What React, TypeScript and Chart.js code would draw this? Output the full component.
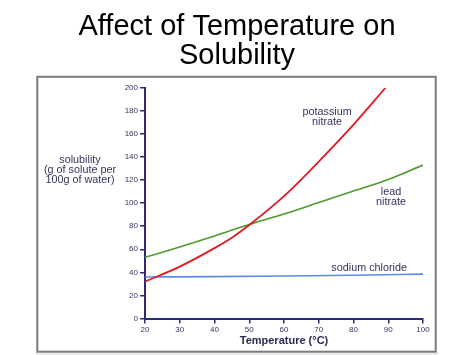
import { useEffect, useRef } from "react";
import { Chart, registerables } from "chart.js";

Chart.register(...registerables);

const titleLines = ["Affect of Temperature on", "Solubility"];
const xTitle = "Temperature (°C)";
const yTitleLines = ["solubility", "(g of solute per", "100g of water)"];

const xMin = 20;
const xMax = 100;
const xStep = 10;
const yMin = 0;
const yMax = 200;
const yStep = 20;

const potassiumNitrateT = [20, 30, 40, 45, 50, 60, 70, 80, 89.2];
const potassiumNitrateS = [32, 45, 61, 70, 81, 106, 136, 168, 200];
const leadNitrateT = [20, 30, 40, 50, 60, 70, 80, 90, 100];
const leadNitrateS = [53, 62, 71.5, 81.5, 90.5, 100.5, 110.5, 120.5, 133];
const sodiumChlorideT = [20, 40, 60, 80, 100];
const sodiumChlorideS = [36, 36.3, 36.8, 37.5, 38.5];

const labelTexts = [["potassium", "nitrate"], ["lead", "nitrate"], ["sodium chloride"]];
const labelT = [72.4, 90.8, 84.5];
const labelS = [179, 109.7, 43.9];

const FONT = "'Liberation Sans', Arial, Helvetica, sans-serif";
const NAVY = "#2a2a78";
const TEXT = "#34345e";

function pts(xs: number[], ys: number[]) {
  return xs.map((x, i) => ({ x, y: ys[i] }));
}

const decor = {
  id: "decor",
  beforeDraw(chart: any) {
    const { ctx } = chart;
    ctx.save();
    ctx.fillStyle = "#ffffff";
    ctx.fillRect(0, 0, chart.width, chart.height);
    ctx.fillStyle = "#ebebeb";
    ctx.fillRect(36, 352.5, 402, 2.5);
    ctx.strokeStyle = "#7a7a7a";
    ctx.lineWidth = 2;
    ctx.strokeRect(37.3, 76.8, 398.4, 274.9);
    ctx.restore();
  },
  afterDatasetsDraw(chart: any) {
    const { ctx, chartArea } = chart;
    const xs = chart.scales.x;
    const ys = chart.scales.y;
    ctx.save();
    ctx.font = `10.8px ${FONT}`;
    ctx.fillStyle = TEXT;
    ctx.textAlign = "center";
    ctx.textBaseline = "middle";
    labelTexts.forEach((lines, i) => {
      const px = xs.getPixelForValue(labelT[i]);
      const py = ys.getPixelForValue(labelS[i]);
      lines.forEach((t, j) => ctx.fillText(t, px, py + j * 10));
    });
    yTitleLines.forEach((t, j) => {
      ctx.fillText(t, chartArea.left - 65, chartArea.top + 72.5 + j * 10);
    });
    ctx.restore();
  },
};

export default function App() {
  const ref = useRef<HTMLCanvasElement | null>(null);
  useEffect(() => {
    if (!ref.current) return;
    Chart.defaults.font.family = FONT;
    const chart = new Chart(ref.current, {
      type: "line",
      data: {
        datasets: [
          {
            label: "potassium nitrate",
            data: pts(potassiumNitrateT, potassiumNitrateS),
            borderColor: "#dd1c22",
            borderWidth: 1.8,
            pointRadius: 0,
            cubicInterpolationMode: "monotone",
          },
          {
            label: "lead nitrate",
            data: pts(leadNitrateT, leadNitrateS),
            borderColor: "#4e9a2c",
            borderWidth: 1.6,
            pointRadius: 0,
            cubicInterpolationMode: "monotone",
          },
          {
            label: "sodium chloride",
            data: pts(sodiumChlorideT, sodiumChlorideS),
            borderColor: "#5b8ede",
            borderWidth: 1.6,
            pointRadius: 0,
            cubicInterpolationMode: "monotone",
          },
        ],
      },
      options: {
        animation: false,
        responsive: false,
        layout: { padding: { left: 51, right: 51, top: 0, bottom: 0 } },
        plugins: {
          legend: { display: false },
          tooltip: { enabled: false },
          title: {
            display: true,
            text: titleLines,
            color: "#000000",
            font: { family: FONT, size: 29, weight: "normal", lineHeight: 0.98 },
            padding: { top: 13.1, bottom: 17.8 },
          },
        },
        scales: {
          x: {
            type: "linear",
            min: xMin,
            max: xMax,
            afterFit: (s: any) => {
              s.height = 36.5;
            },
            border: { display: true, color: NAVY, width: 2 },
            grid: {
              drawOnChartArea: false,
              drawTicks: true,
              tickLength: 5,
              color: NAVY,
              lineWidth: 1.5,
            },
            ticks: {
              stepSize: xStep,
              color: TEXT,
              font: { size: 8 },
              padding: 1,
              maxRotation: 0,
            },
            title: {
              display: true,
              text: xTitle,
              color: "#2b2b55",
              font: { size: 11, weight: "bold" },
              padding: { top: 0, bottom: 7.4 },
            },
          },
          y: {
            type: "linear",
            min: yMin,
            max: yMax,
            afterFit: (s: any) => {
              s.width = 94;
            },
            border: { display: true, color: NAVY, width: 2 },
            grid: {
              drawOnChartArea: false,
              drawTicks: true,
              tickLength: 5,
              color: NAVY,
              lineWidth: 1.5,
            },
            ticks: {
              stepSize: yStep,
              color: TEXT,
              font: { size: 8 },
              padding: 2,
            },
          },
        },
      },
      plugins: [decor],
    });
    return () => chart.destroy();
  }, []);
  return (
    <div style={{ position: "fixed", left: 0, top: 0, width: 474, height: 355, background: "#fff" }}>
      <canvas ref={ref} width={474} height={355} style={{ display: "block" }} />
    </div>
  );
}
